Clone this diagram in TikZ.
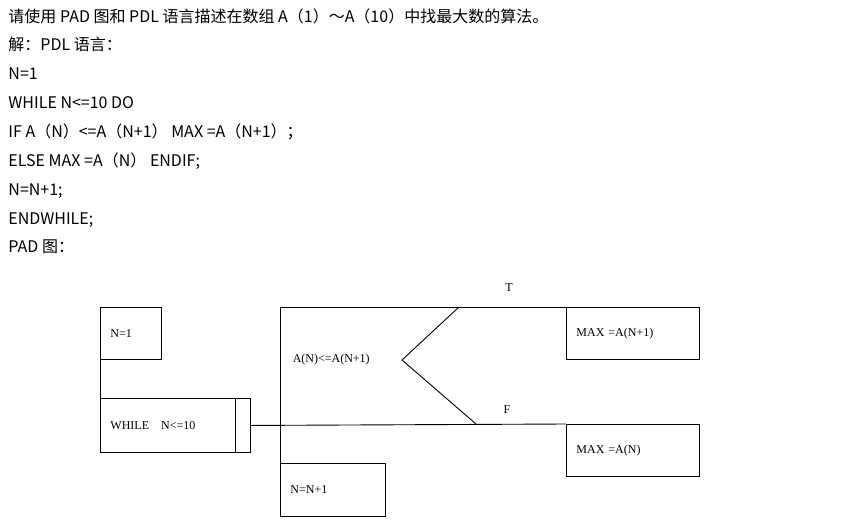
\documentclass[tikz,border=0pt]{standalone}
\usepackage{fontspec}
\setmainfont{Liberation Serif}
\newfontfamily\cjk{Noto Sans CJK SC}
\begin{document}
\begin{tikzpicture}[x=1pt, y=-1pt, line width=0.9pt,
    txt/.style={anchor=base west, inner sep=0pt, font=\cjk\fontsize{16}{16}\selectfont},
    box/.style={draw, anchor=north west, inner xsep=10pt, align=left, font=\fontsize{12}{12}\selectfont},
    lbl/.style={font=\fontsize{12}{12}\selectfont}]
    \useasboundingbox (0,0) rectangle (846,522);
    % Question and PDL text
    \node[txt] (q)  at (8,22)  {请使用 PAD 图和 PDL 语言描述在数组 A（1）～A（10）中找最大数的算法。};
    \node[txt] (s)  at (8,50)  {解：PDL 语言：};
    \node[txt] (l1) at (8,79)  {N=1};
    \node[txt] (l2) at (8,108) {WHILE N<=10 DO};
    \node[txt] (l3) at (8,137) {IF A（N）<=A（N+1） MAX =A（N+1）；};
    \node[txt] (l4) at (8,166) {ELSE MAX =A（N） ENDIF;};
    \node[txt] (l5) at (8,195) {N=N+1;};
    \node[txt] (l6) at (8,224) {ENDWHILE;};
    \node[txt] (l7) at (8,252) {PAD 图：};
    % PAD boxes
    \node[box, minimum width=61pt, minimum height=52pt, text width=41pt] (n1) at (100,307) {N=1\\[12pt]};
    \node[box, minimum width=150pt, minimum height=54pt, text width=130pt] (wh) at (100,398) {WHILE\quad N<=10};
    \draw (235,398) -- (235,452);
    \node[box, minimum width=133pt, minimum height=52pt, text width=113pt] (mt) at (566,307) {MAX =A(N+1)};
    \node[box, minimum width=133pt, minimum height=52pt, text width=113pt] (mf) at (566,424) {MAX =A(N)};
    \node[box, minimum width=105pt, minimum height=53pt, text width=85pt] (nn) at (280,463) {N=N+1};
    % frame of the loop body and selection
    \coordinate (top) at (280,307);
    \coordinate (apex) at (402,360);
    \coordinate (dt) at (459,307);
    \coordinate (db) at (476,424);
    \node[lbl, anchor=west] (cond) at (289,360) {A(N)<=A(N+1)};
    \draw (n1.south west) -- (wh.north west);
    \draw (top) -- (nn.south west);
    \draw (top) -- (mt.north west);
    \draw (wh.east) -- (mf.north west);
    \draw (dt) -- (apex) -- (db);
    \node[lbl] (t) at (509,288) {T};
    \node[lbl] (f) at (507,410) {F};
\end{tikzpicture}
\end{document}
